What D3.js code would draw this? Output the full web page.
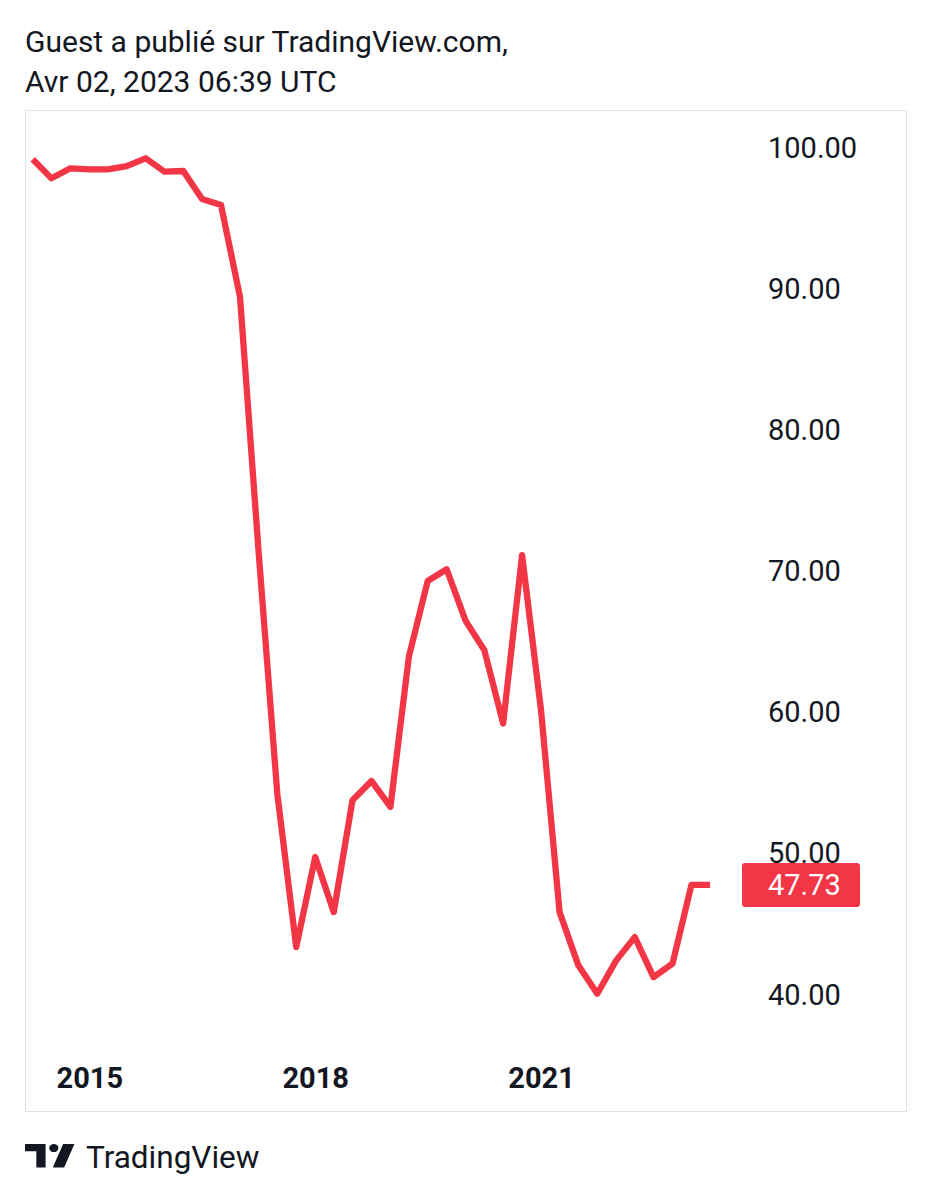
<!DOCTYPE html>
<html><head><meta charset="utf-8">
<script src="https://cdn.jsdelivr.net/npm/d3@7"></script>
<style>
html,body{margin:0;padding:0;background:#fff;}
svg{display:block;font-family:Roboto,"Noto Sans",sans-serif;}
</style></head>
<body>
<svg id="c" width="933" height="1200"></svg>
<script>
const dates = ["2014-04","2014-07","2014-10","2015-01","2015-04","2015-07","2015-10","2016-01","2016-04","2016-07","2016-10","2017-01","2017-04","2017-07","2017-10","2018-01","2018-04","2018-07","2018-10","2019-01","2019-04","2019-07","2019-10","2020-01","2020-04","2020-07","2020-10","2021-01","2021-04","2021-07","2021-10","2022-01","2022-04","2022-07","2022-10","2023-01","2023-04"];
const values = [99.13,97.78,98.49,98.42,98.42,98.65,99.2,98.25,98.3,96.31,95.89,89.39,71.4,54.2,43.32,49.7,45.8,53.72,55.09,53.25,63.93,69.26,70.09,66.43,64.35,59.16,71.08,60.1,45.8,42.03,40.02,42.38,44.03,41.2,42.15,47.73,47.73];
const yTicks = [40,50,60,70,80,90,100];
const xTickYears = ["2015","2018","2021"];
const lastValue = 47.73;
const titleLines = ["Guest a publié sur TradingView.com,","Avr 02, 2023 06:39 UTC"];
const brand = "TradingView";

const parse = d3.timeParse("%Y-%m");
const data = dates.map((d,i)=>({date:parse(d), value:values[i]}));
const svg = d3.select("#c");
const red = "#f23645";
const textCol = "#131722";

// header
svg.selectAll("text.title").data(titleLines).enter().append("text")
  .attr("class","title").attr("x",25).attr("y",(d,i)=>52+i*40)
  .attr("font-size",30).attr("fill",textCol).text(d=>d);

// frame
svg.append("rect").attr("x",25.5).attr("y",110.5).attr("width",881).attr("height",1001)
  .attr("fill","none").attr("stroke","#e0e3eb").attr("stroke-width",1);

const x = d3.scaleTime().domain([data[0].date, data[data.length-1].date]).range([32.7,710]);
const y = d3.scaleLinear().domain([40,100]).range([994,147]);

// y axis (right)
const yAxis = d3.axisRight(y).tickValues(yTicks).tickFormat(d3.format(".2f")).tickSize(0).tickPadding(0);
const ya = svg.append("g").attr("transform","translate(768,0)").call(yAxis);
ya.select(".domain").remove();
ya.selectAll("text").attr("font-size",29).attr("fill",textCol).attr("font-family","Roboto").attr("dy","0.35em");

// x axis
const xAxis = d3.axisBottom(x).tickValues(xTickYears.map(s=>parse(s+"-01"))).tickFormat(d3.timeFormat("%Y")).tickSize(0).tickPadding(0);
const xa = svg.append("g").attr("transform","translate(0,1067.5)").call(xAxis);
xa.select(".domain").remove();
xa.selectAll("text").attr("font-size",29).attr("font-weight","bold").attr("fill",textCol).attr("font-family","Roboto").attr("dy","0.71em");

// line
const line = d3.line().x(d=>x(d.date)).y(d=>y(d.value));
svg.append("path").datum(data).attr("d",line).attr("fill","none")
  .attr("stroke",red).attr("stroke-width",6.3).attr("stroke-linejoin","round").attr("stroke-linecap","butt");

// last value label
const ly = y(lastValue);
svg.append("rect").attr("x",742).attr("y",ly-22).attr("width",118).attr("height",44).attr("rx",3).attr("fill",red);
svg.append("text").attr("x",768).attr("y",ly).attr("dy","0.35em").attr("font-size",29)
  .attr("fill","#fff").text(d3.format(".2f")(lastValue));

// brand
const logo = svg.append("g").attr("transform","translate(25,1144) scale(1.03,0.9)");
logo.append("path").attr("d","M0 0H20V26H11V8H0Z").attr("fill",textCol);
logo.append("circle").attr("cx",28).attr("cy",4.5).attr("r",4.5).attr("fill",textCol);
logo.append("path").attr("d","M37 0H48L38 26H27Z").attr("fill",textCol);
svg.append("text").attr("x",86).attr("y",1167.5).attr("font-size",31.5).attr("fill",textCol).text(brand);
</script>
</body></html>
